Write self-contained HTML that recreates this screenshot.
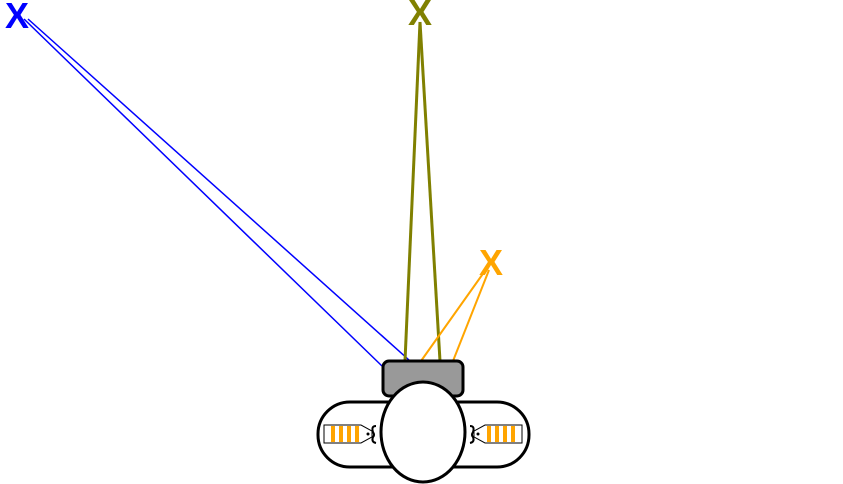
<!DOCTYPE html>
<html><head><style>html,body{margin:0;padding:0;background:#fff;overflow:hidden}</style></head>
<body>
<svg width="843" height="484" xmlns="http://www.w3.org/2000/svg" style="display:block">
<g font-family="Liberation Sans, sans-serif" font-weight="bold" font-size="36" text-anchor="middle">
<text x="17" y="28" fill="#0000ff">X</text>
<text x="420" y="25" fill="#808000">X</text>
<text x="491" y="275" fill="#ffa500">X</text>
</g>
<g stroke-width="1.5" fill="none">
<line x1="24" y1="19" x2="382" y2="366" stroke="#0000ff"/>
<line x1="28" y1="19" x2="409" y2="360" stroke="#0000ff"/>
<line x1="420" y1="22" x2="405" y2="361" stroke="#808000" stroke-width="3"/>
<line x1="420" y1="22" x2="440" y2="361" stroke="#808000" stroke-width="3"/>
<line x1="487" y1="268" x2="421" y2="361" stroke="#ffa500" stroke-width="2"/>
<line x1="489" y1="270" x2="453" y2="361" stroke="#ffa500" stroke-width="2"/>
</g>
<rect x="383" y="361" width="80" height="35" rx="6" fill="#999" stroke="#000" stroke-width="3"/>
<rect x="318" y="402" width="211" height="65" rx="32" fill="#fff" stroke="#000" stroke-width="3"/>
<g stroke="#000" stroke-width="1">
<path d="M324 425 H361 L372 431 V437 L361 443 H324 Z" fill="#fff"/>
<path d="M522 425 H485 L474 431 V437 L485 443 H522 Z" fill="#fff"/>
</g>
<g fill="#ffa500">
<rect x="331" y="426" width="4" height="16"/>
<rect x="339" y="426" width="4" height="16"/>
<rect x="347" y="426" width="4" height="16"/>
<rect x="355" y="426" width="4" height="16"/>
<rect x="487" y="426" width="4" height="16"/>
<rect x="495" y="426" width="4" height="16"/>
<rect x="503" y="426" width="4" height="16"/>
<rect x="511" y="426" width="4" height="16"/>
</g>
<circle cx="368" cy="434" r="1.5" fill="#000"/>
<circle cx="478" cy="434" r="1.5" fill="#000"/>
<path d="M376 426 q-5 0 -3 6 q2 3 0 5 q-2 5 3 6" fill="none" stroke="#000" stroke-width="2"/>
<path d="M470 426 q5 0 3 6 q-2 3 0 5 q2 5 -3 6" fill="none" stroke="#000" stroke-width="2"/>
<ellipse cx="423" cy="432" rx="42" ry="50" fill="#fff" stroke="#000" stroke-width="3"/>
</svg>
</body></html>
